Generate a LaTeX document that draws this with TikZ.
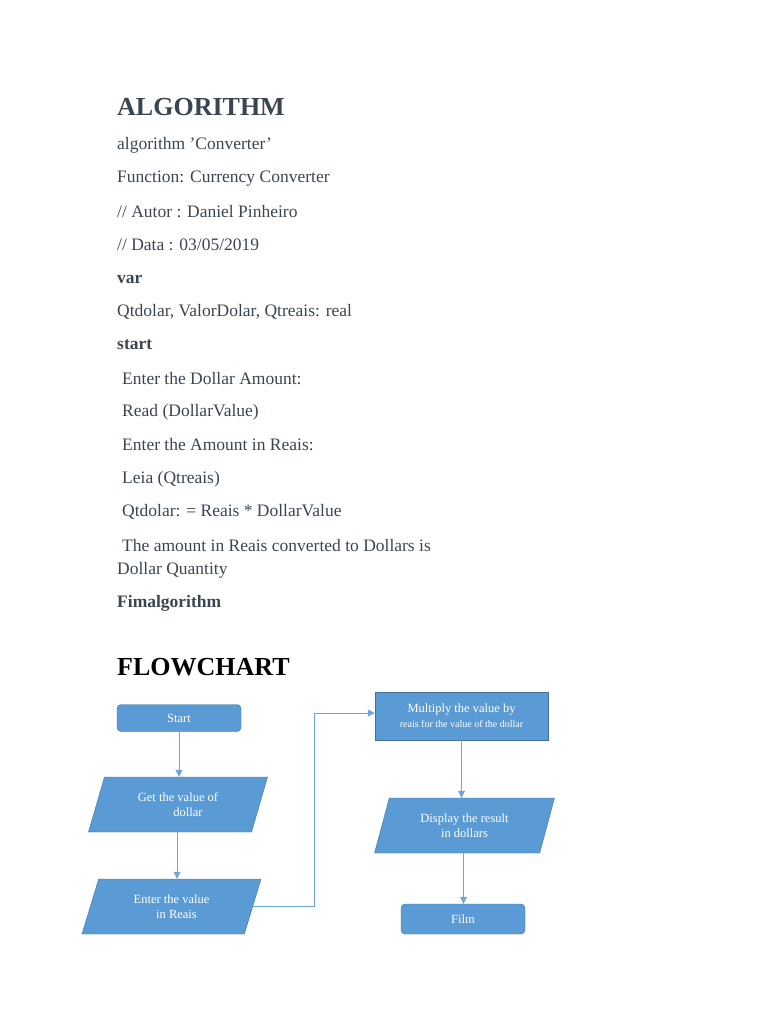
\documentclass[tikz,border=0pt]{standalone}
\usepackage{fontspec}
\setmainfont{Liberation Serif}
\usetikzlibrary{shapes.geometric,arrows.meta}
\definecolor{txt}{HTML}{3A4552}
\definecolor{fillb}{HTML}{5B9BD5}
\definecolor{edgeb}{HTML}{41719C}
\definecolor{arr}{HTML}{6FA6DA}
\begin{document}
\begin{tikzpicture}[x=1pt,y=-1pt,
  body/.style={anchor=west,text=txt,font=\fontsize{17.5}{20}\selectfont,inner sep=0pt},
  head/.style={anchor=west,font=\fontsize{26}{30}\selectfont\bfseries,inner sep=0pt},
  box/.style={draw=edgeb,fill=fillb,text=white,font=\fontsize{12.5}{15}\selectfont,align=center,inner sep=0pt},
  rbox/.style={box,rounded corners=4pt,minimum width=124pt,minimum height=27pt},
  pbox/.style={box,trapezium,trapezium left angle=70,trapezium right angle=110,trapezium stretches=true,minimum width=180pt,minimum height=55pt},
  conn/.style={draw=arr,line width=0.8pt,-{Triangle[length=7pt,width=7pt]}}]
\useasboundingbox (0,0) rectangle (768,1024);
\node[head,text=txt] (h1) at (117,107) {ALGORITHM};
\node[body] (l1) at (117,145) {algorithm 'Converter'};
\node[body] (l2) at (117,179) {Function: Currency Converter};
\node[body] (l3) at (117,212) {// Autor : Daniel Pinheiro};
\node[body] (l4) at (117,245) {// Data : 03/05/2019};
\node[body,font=\fontsize{17.5}{20}\selectfont\bfseries] (l5) at (117,279) {var};
\node[body] (l6) at (117,312) {Qtdolar, ValorDolar, Qtreais: real};
\node[body,font=\fontsize{17.5}{20}\selectfont\bfseries] (l7) at (117,345) {start};
\node[body] (l8) at (122,379) {Enter the Dollar Amount:};
\node[body] (l9) at (122,412) {Read (DollarValue)};
\node[body] (l10) at (122,445) {Enter the Amount in Reais:};
\node[body] (l11) at (122,479) {Leia (Qtreais)};
\node[body] (l12) at (122,512) {Qtdolar: = Reais * DollarValue};
\node[body] (l13) at (122,546) {The amount in Reais converted to Dollars is};
\node[body] (l14) at (117,570) {Dollar Quantity};
\node[body,font=\fontsize{17.5}{20}\selectfont\bfseries] (l15) at (117,603) {Fimalgorithm};
\node[head,text=black] (h2) at (117,667) {FLOWCHART};
\node[rbox] (start) at (179,718) {Start};
\node[pbox] (get) at (178,804.5) {Get the value of\\\hspace*{20pt}dollar};
\node[pbox] (enter) at (171.5,906.5) {Enter the value\\\hspace*{10pt}in Reais};
\node[box,minimum width=173pt,minimum height=48pt] (mult) at (461.5,716) {Multiply the value by\\{\fontsize{10}{12}\selectfont reais for the value of the dollar}};
\node[pbox] (disp) at (464.5,825.5) {Display the result\\in dollars};
\node[rbox,minimum height=30pt] (film) at (463,919) {Film};
\draw[conn] (start.south) -- (start.south |- get.north);
\draw[conn] (get.south) ++(-1,0) coordinate (g1) -- (g1 |- enter.north);
\coordinate (k) at (314,713);
\draw[conn] (enter.east) -- (k |- enter.east) -- (k) -- (mult.west |- k);
\draw[conn] (mult.south) -- (mult.south |- disp.north);
\draw[conn] (disp.south) ++(-1,0) coordinate (d1) -- (d1 |- film.north);
\end{tikzpicture}
\end{document}
